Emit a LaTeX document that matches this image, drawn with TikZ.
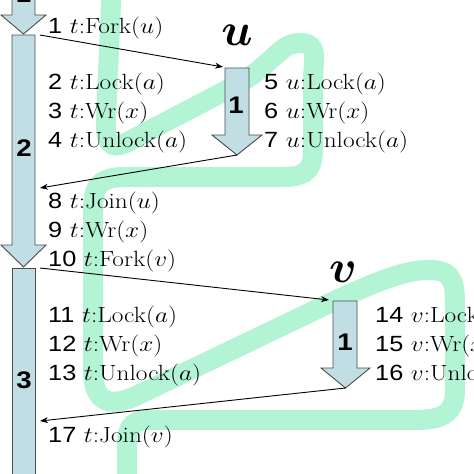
\RequirePackage{fix-cm}
\documentclass[tikz,border=0pt]{standalone}
\usepackage{amsmath}
\usepackage{graphicx}
\usepackage{fontspec}
\usetikzlibrary{arrows.meta}
\newfontfamily\numfont{Liberation Sans}
\definecolor{mint}{RGB}{178,244,212}
\definecolor{bluegray}{RGB}{192,222,228}
\newcommand{\ev}[4]{\scalebox{1.15}[1]{{\numfont #1}\hspace{0.3em}$#2$:#3($#4$)}}
\newcommand{\segno}[1]{\scalebox{1.15}[1]{#1}}

\begin{document}
\begin{tikzpicture}[x=1pt, y=-1pt,
    flow/.style={draw=mint, line width=20pt, line cap=round},
    bar/.style={draw=black!70, fill=bluegray, line width=0.9pt, line join=miter},
    op/.style={anchor=base west, inner sep=0pt, font=\fontsize{22}{26}\selectfont},
    seg/.style={inner sep=0pt, font=\numfont\bfseries\fontsize{24}{28}\selectfont},
    thr/.style={inner sep=0pt, font=\fontsize{46}{50}\selectfont\boldmath},
    msg/.style={-{Stealth[length=8pt,width=6pt]}, line width=0.9pt}
]
\useasboundingbox (0,0) rectangle (474,474);
\clip (0,0) rectangle (474,474);

% schedule curve
\draw[flow] (112,-20) -- (106,120) .. controls (105,150) and (115,150) .. (135,138)
  -- (240,83) .. controls (275,62) and (280,43) .. (300,43)
  .. controls (320,43) and (313,60) .. (313,80) -- (313,150)
  .. controls (313,175) and (300,177) .. (280,177) -- (125,177)
  .. controls (95,177) and (93,190) .. (93,215) -- (93,370)
  .. controls (93,405) and (112,408) .. (140,394) -- (330,303)
  .. controls (390,275) and (410,270) .. (430,270)
  .. controls (455,270) and (455,285) .. (455,310) -- (455,390)
  .. controls (455,415) and (440,420) .. (415,420) -- (150,420)
  .. controls (128,420) and (127,430) .. (127,450) -- (127,500);

% thread t
\draw[bar] (12,-20) -- (35,-20) -- (35,15) -- (46,15) -- (23.5,34) -- (1,15) -- (12,15) -- cycle;
\draw[bar] (12,35) -- (35,35) -- (35,245) -- (46,245) -- (23.5,267) -- (1,245) -- (12,245) -- cycle;
\draw[bar] (12,268) -- (35,268) -- (35,500) -- (12,500) -- cycle;
% threads u and v
\draw[bar] (225,68) -- (249,68) -- (249,135) -- (262,135) -- (237,155) -- (212,135) -- (225,135) -- cycle;
\draw[bar] (333,301) -- (357,301) -- (357,368) -- (370,368) -- (345.5,388) -- (321,368) -- (333,368) -- cycle;

\node[seg] (s1) at (23.5,-6) {\segno{1}};
\node[seg] (s2) at (24,148) {\segno{2}};
\node[seg] (s3) at (24,380) {\segno{3}};
\node[seg] (su) at (236,105) {\segno{1}};
\node[seg] (sv) at (345,342) {\segno{1}};

\node[thr] (u) at (237,35) {$u$};
\node[thr] (v) at (343,272) {$v$};

% operations of t
\node[op] (e1) at (48,33) {\ev{1}{t}{Fork}{u}};
\node[op] (e2) at (48,89) {\ev{2}{t}{Lock}{a}};
\node[op] (e3) at (48,118) {\ev{3}{t}{Wr}{x}};
\node[op] (e4) at (48,147) {\ev{4}{t}{Unlock}{a}};
\node[op] (e8) at (48,208) {\ev{8}{t}{Join}{u}};
\node[op] (e9) at (48,237) {\ev{9}{t}{Wr}{x}};
\node[op] (e10) at (48,266) {\ev{10}{t}{Fork}{v}};
\node[op] (e11) at (48,322) {\ev{11}{t}{Lock}{a}};
\node[op] (e12) at (48,351) {\ev{12}{t}{Wr}{x}};
\node[op] (e13) at (48,380) {\ev{13}{t}{Unlock}{a}};
\node[op] (e17) at (48,442) {\ev{17}{t}{Join}{v}};
% operations of u
\node[op] (e5) at (264,89) {\ev{5}{u}{Lock}{a}};
\node[op] (e6) at (264,118) {\ev{6}{u}{Wr}{x}};
\node[op] (e7) at (264,147) {\ev{7}{u}{Unlock}{a}};
% operations of v
\node[op] (e14) at (375,322) {\ev{14}{v}{Lock}{a}};
\node[op] (e15) at (375,351) {\ev{15}{v}{Wr}{x}};
\node[op] (e16) at (375,380) {\ev{16}{v}{Unlock}{a}};

% fork and join edges
\coordinate (forku) at (40,35);
\coordinate (uin) at (223,67);
\coordinate (utip) at (237,155);
\coordinate (joinu) at (40,188);
\coordinate (forkv) at (40,268);
\coordinate (vin) at (329,300);
\coordinate (vtip) at (345.5,388);
\coordinate (joinv) at (40,421);

\draw[msg] (forku) -- (uin);
\draw[msg] (utip) -- (joinu);
\draw[msg] (forkv) -- (vin);
\draw[msg] (vtip) -- (joinv);
\end{tikzpicture}
\end{document}
